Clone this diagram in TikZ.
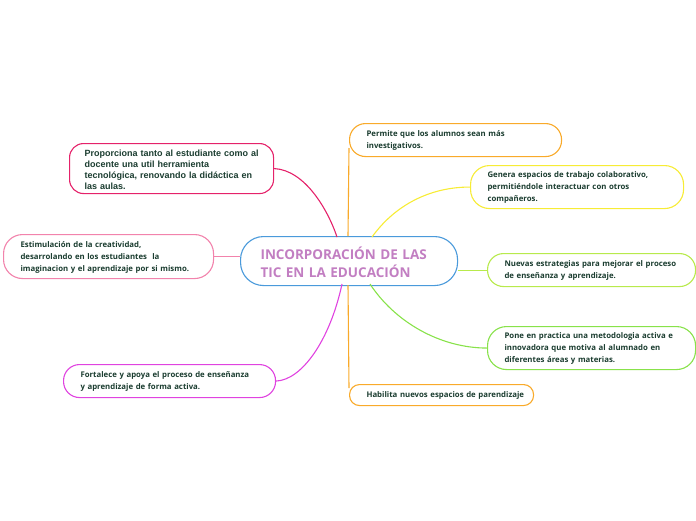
\documentclass[tikz,border=0pt]{standalone}
\usepackage{fontspec}
\setmainfont{Open Sans}
\newfontfamily\arialf{Liberation Sans}
\usetikzlibrary{calc}
\definecolor{crim}{HTML}{E5226A}
\definecolor{lpink}{HTML}{F283AC}
\definecolor{magen}{HTML}{E043E0}
\definecolor{cblue}{HTML}{4A9ADB}
\definecolor{orng}{HTML}{F9AA2A}
\definecolor{yell}{HTML}{F7EC35}
\definecolor{lgrn}{HTML}{B8EA4C}
\definecolor{grn}{HTML}{88E24A}
\definecolor{txt}{HTML}{1B3D30}
\definecolor{ctxt}{HTML}{C27EC2}
\newcommand\tbl[1]{\begin{tabular}{@{}l@{}}#1\end{tabular}}
\newcommand\lowtbl[2]{\raisebox{-#1}[\height][\depth]{\tbl{#2}}}
\begin{document}
\begin{tikzpicture}[x=1pt,y=-1pt,
  box/.style={draw, line width=1.1pt, fill=white, anchor=north west,
    inner xsep=17pt, inner ysep=0pt, text=txt, align=left,
    font=\bfseries\fontsize{7.8}{11.7}\selectfont},
  conn/.style={line width=1.1pt}]
\useasboundingbox (0,0) rectangle (696,520);
\coordinate (a1) at (337,237);
\coordinate (a2) at (372,237);
\coordinate (a3) at (370,284);
\coordinate (a4) at (342,284);
\coordinate (ot) at (348,236);
\coordinate (ob) at (348,285);
% nodes
\node[box, minimum width=217pt, minimum height=49pt, text width=177pt, rounded corners=23pt,
  draw=cblue, inner xsep=20pt, text=ctxt, font=\bfseries\fontsize{13.5}{18}\selectfont]
  (c) at (240,236) {\lowtbl{3.5pt}{INCORPORACIÓN DE LAS\\TIC EN LA EDUCACIÓN}};
\node[box, minimum width=204pt, minimum height=50pt, text width=174pt, rounded corners=14pt,
  draw=crim, inner xsep=15pt, font=\arialf\bfseries\fontsize{9}{11}\selectfont]
  (n1) at (69,143) {\lowtbl{2.5pt}{Proporciona tanto al estudiante como al\\docente una util herramienta\\tecnológica, renovando la didáctica en\\las aulas.}};
\node[box, minimum width=210pt, minimum height=44pt, text width=176pt, rounded corners=19pt,
  draw=lpink] (n2) at (3,234)
  {\lowtbl{0.8pt}{Estimulación de la creatividad,\\desarrolando en los estudiantes\ \ la\\imaginacion y el aprendizaje por si mismo.}};
\node[box, minimum width=212pt, minimum height=33pt, text width=178pt, rounded corners=16pt,
  draw=magen] (n3) at (63,364)
  {\tbl{Fortalece y apoya el proceso de enseñanza\\y aprendizaje de forma activa.}};
\node[box, minimum width=212pt, minimum height=33pt, text width=178pt, rounded corners=16pt,
  draw=orng] (o1) at (349,123)
  {\tbl{Permite que los alumnos sean más\\investigativos.}};
\node[box, minimum width=213pt, minimum height=43pt, text width=179pt, rounded corners=19pt,
  draw=yell] (y1) at (470,165)
  {\tbl{Genera espacios de trabajo colaborativo,\\permitiéndole interactuar con otros\\compañeros.}};
\node[box, minimum width=208pt, minimum height=33pt, text width=174pt, rounded corners=16pt,
  draw=lgrn] (lg) at (487,253)
  {\tbl{Nuevas estrategias para mejorar el proceso\\de enseñanza y aprendizaje.}};
\node[box, minimum width=208pt, minimum height=43pt, text width=174pt, rounded corners=19pt,
  draw=grn] (g1) at (487,326)
  {\tbl{Pone en practica una metodologia activa e\\innovadora que motiva al alumnado en\\diferentes áreas y materias.}};
\node[box, minimum width=184pt, minimum height=21pt, text width=150pt, rounded corners=10pt,
  draw=orng] (o2) at (349,384)
  {\tbl{Habilita nuevos espacios de parendizaje}};
% connectors
\draw[conn, crim] (n1.east) .. controls (305,170) and (328,210) .. (a1);
\draw[conn, yell] (a2) .. controls (395,205) and (430,187) .. (y1.west);
\draw[conn, grn] (a3) .. controls (395,322) and (440,348) .. (g1.west);
\draw[conn, magen] (a4) .. controls (330,340) and (302,380) .. (n3.east);
\draw[conn, lpink] (n2.east) -- (c.west |- n2.east);
\draw[conn, lgrn] (c.east |- lg.west) -- (lg.west);
\draw[conn, orng] (o1.west |- 0,148) -- (ot);
\draw[conn, orng] (ob) -- (o2.west |- 0,388);
\end{tikzpicture}
\end{document}
